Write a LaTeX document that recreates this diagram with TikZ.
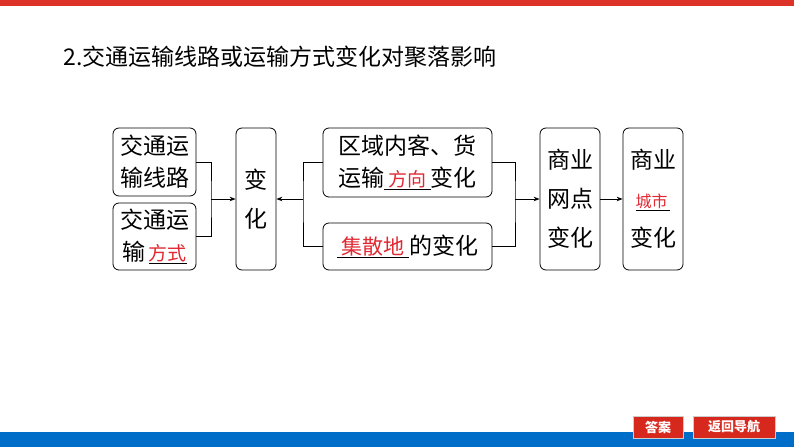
\documentclass[tikz,border=0pt]{standalone}
\usepackage{fontspec}
\setmainfont{Liberation Serif}
\newfontfamily\cjk{Noto Sans CJK SC}
\usetikzlibrary{arrows.meta, positioning, calc}
\definecolor{bar_red}{RGB}{220, 50, 40}
\definecolor{bar_blue}{RGB}{0, 110, 200}
\definecolor{ans_red}{RGB}{215, 40, 30}
\definecolor{fill_red}{RGB}{225, 40, 50}
\newcommand{\fillin}[1]{\underline{\textcolor{fill_red}{#1}}}

\begin{document}
\begin{tikzpicture}[
    x=1pt, y=-1pt,
    % Node styles
    box/.style={
        rectangle,
        draw=black,
        line width=0.8pt,
        rounded corners=6pt,
        align=center,
        inner sep=0pt,
        font=\cjk\fontsize{23}{32}\selectfont
    },
    tallbox/.style={
        box,
        minimum width=60pt,
        minimum height=142pt,
        font=\cjk\fontsize{23}{39}\selectfont
    },
    arrow/.style={
        -{Stealth[length=6pt]},
        line width=0.8pt
    },
    button/.style={
        rectangle,
        fill=ans_red,
        draw=gray!40,
        text=white,
        inner sep=0pt,
        font=\cjk\bfseries\fontsize{13}{15}\selectfont
    }
]

\useasboundingbox (0,0) rectangle (794,447);
\fill[bar_red] (0,0) rectangle (794,6);
\fill[bar_blue] (0,432) rectangle (794,447);

% Title
\node[anchor=west, font=\cjk\fontsize{23}{26}\selectfont] (title) at (60,57) {2.交通运输线路或运输方式变化对聚落影响};

% Position nodes
\node[box, minimum width=83pt, minimum height=68pt] (line) at (154.5,162) {交通运\\输线路};
\node[box, minimum width=83pt, minimum height=67pt] (mode) at (154.5,236.5) {交通运\\输\,\fillin{\fontsize{19}{22}\selectfont 方式}};
\node[box, minimum width=40pt, minimum height=142pt, font=\cjk\fontsize{23}{39}\selectfont] (change) at (256,199) {变\\化};
\node[box, minimum width=169pt, minimum height=69pt] (flow) at (407.5,162.5) {区域内客、货\\运输\fillin{\fontsize{19}{22}\selectfont\ 方向\ }变化};
\node[box, minimum width=169pt, minimum height=47pt] (hub) at (407.5,246.5) {\fillin{\fontsize{21}{24}\selectfont\ 集散地\ }的变化};
\node[tallbox] (shop) at (570,199) {商业\\网点\\变化};
\node[tallbox] (city) at (653,199) {商业\\\fillin{\fontsize{16}{18}\selectfont 城市\,}\\变化};

\coordinate (ljoin) at (211,199);
\coordinate (mjoin) at (303,199);
\coordinate (rjoin) at (515,199);

\draw[line width=0.8pt] (line.east) -| (ljoin) |- (mode.east);
\draw[arrow] (ljoin) -- (change.west);
\draw[line width=0.8pt] (flow.west) -| (mjoin) |- (hub.west);
\draw[arrow] (mjoin) -- (change.east);
\draw[line width=0.8pt] (flow.east) -| (rjoin) |- (hub.east);
\draw[arrow] (rjoin) -- (shop.west);
\draw[arrow] (shop.east) -- (city.west);

% Buttons
\node[button, minimum width=50pt, minimum height=22pt] (answer) at (658,427) {答案};
\node[button, minimum width=82pt, minimum height=22pt] (back) at (734,427) {返回导航};

\end{tikzpicture}
\end{document}
